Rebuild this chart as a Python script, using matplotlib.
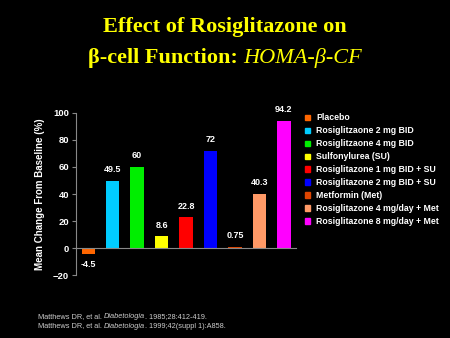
import matplotlib
matplotlib.use("Agg")
import matplotlib.pyplot as plt

groups = [
    "Placebo",
    "Rosiglitzaone 2 mg BID",
    "Rosiglitzaone 4 mg BID",
    "Sulfonylurea (SU)",
    "Rosiglitazone 1 mg BID + SU",
    "Rosiglitazone 2 mg BID + SU",
    "Metformin (Met)",
    "Rosiglitazone 4 mg/day + Met",
    "Rosiglitazone 8 mg/day + Met",
]
values = [-4.5, 49.5, 60, 8.6, 22.8, 72, 0.75, 40.3, 94.2]
value_labels = ["-4.5", "49.5", "60", "8.6", "22.8", "72", "0.75", "40.3", "94.2"]
colors = ["#FF6600", "#00CCFF", "#00EE00", "#FFFF00", "#FF0000",
          "#0000FF", "#DD4400", "#FF9966", "#FF00FF"]
yticks = [-20, 0, 20, 40, 60, 80, 100]

plt.rcParams["font.family"] = ["Liberation Sans", "DejaVu Sans"]

fig = plt.figure(figsize=(4.5, 3.38), dpi=100, facecolor="black")
ax = fig.add_axes([0.169, 0.186, 0.489, 0.48], facecolor="black")

x = list(range(len(values)))
bars = ax.bar(x, values, width=0.55, color=colors, zorder=2)

for xi, v, lab in zip(x, values, value_labels):
    if v < 0:
        ax.text(xi, v - 4, lab, ha="center", va="top", color="white",
                fontsize=6.5, fontweight="bold")
    else:
        ax.text(xi, v + 5, lab, ha="center", va="bottom", color="white",
                fontsize=6.5, fontweight="bold")

ax.set_xlim(-0.5, 8.5)
ax.set_ylim(-20, 100)
ax.set_yticks(yticks)
ax.set_xticks([])
ax.spines["top"].set_visible(False)
ax.spines["right"].set_visible(False)
ax.spines["left"].set_color("#888888")
ax.spines["bottom"].set_color("#888888")
ax.spines["bottom"].set_position(("data", 0))
ax.spines["bottom"].set_zorder(3)
ax.tick_params(axis="y", colors="#888888", labelcolor="white", length=3,
               labelsize=6.8, pad=2)
for t in ax.get_yticklabels():
    t.set_fontweight("bold")
ax.set_ylabel("Mean Change From Baseline (%)", color="white", fontsize=7,
              fontweight="bold", labelpad=6)

# legend
handles = [plt.Rectangle((0, 0), 1, 1, color=c) for c in colors]
leg = fig.legend(handles, groups, loc="upper left", bbox_to_anchor=(0.663, 0.685),
                 frameon=False, handlelength=0.55, handleheight=0.55,
                 handletextpad=0.7, labelspacing=0.45, borderpad=0.3,
                 prop={"weight": "bold", "size": 6.3})
for t in leg.get_texts():
    t.set_color("white")

# title
title_kw = dict(color="#FFFF00", fontsize=16, fontweight="bold",
                family=["Liberation Serif", "DejaVu Serif"])
fig.text(0.5, 0.92, "Effect of Rosiglitazone on", ha="center", va="center", **title_kw)
t1 = fig.text(0.5, 0.828, "\u03b2-cell Function: ", ha="left", va="center", **title_kw)
t2 = ax.annotate("HOMA-\u03b2-CF", xy=(1, 0.5), xycoords=t1, ha="left", va="center",
                 color="#FFFF00", fontsize=16, fontstyle="italic",
                 family=["Liberation Serif", "DejaVu Serif"], annotation_clip=False)
fig.canvas.draw()
r = fig.canvas.get_renderer()
w1 = t1.get_window_extent(r).width
w2 = t2.get_window_extent(r).width
t1.set_x(0.5 - (w1 + w2) / 2 / fig.bbox.width)

# references, pieces placed on one baseline
ref_kw = dict(color="#CCCCCC", fontsize=5.3, va="baseline")
refs = [("Matthews DR, et al. ", "Diabetologia", ". 1985;28:412-419."),
        ("Matthews DR, et al. ", "Diabetologia", ". 1999;42(suppl 1):A858.")]
for i, parts in enumerate(refs):
    xpos = 0.084
    ypos = 0.058 - i * 0.027
    for j, s in enumerate(parts):
        style = "italic" if j == 1 else "normal"
        t = fig.text(xpos, ypos, s, fontstyle=style, **ref_kw)
        t.set_text(s.replace(" ", "\u00a0"))
        xpos += t.get_window_extent(r).width / fig.bbox.width

fig.savefig("out.png", dpi=100, facecolor="black")
